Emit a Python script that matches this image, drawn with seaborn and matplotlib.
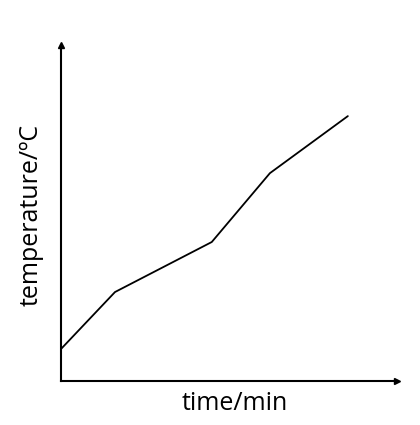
import matplotlib
matplotlib.use("Agg")
import matplotlib.pyplot as plt
import seaborn as sns
import pandas as pd

# readings
time_min = [0.0, 1.61, 4.49, 6.22, 8.54]
temperature = [0.95, 2.65, 4.14, 6.19, 7.89]

df = pd.DataFrame({"time": time_min, "temp": temperature})

sns.set_style("white")
plt.rcParams["font.family"] = ["Open Sans", "DejaVu Sans"]
plt.rcParams["text.color"] = "black"
plt.rcParams["axes.labelcolor"] = "black"

fig = plt.figure(figsize=(4.2, 4.25), dpi=100)
ax = fig.add_axes([0.145, 0.1035, 0.8, 0.79])

sns.lineplot(data=df, x="time", y="temp", color="black", linewidth=1.3, ax=ax)

ax.set_xlim(0, 10)
ax.set_ylim(0, 10)
ax.set_xticks([])
ax.set_yticks([])
sns.despine(ax=ax)
for side in ["left", "bottom"]:
    ax.spines[side].set_color("black")
    ax.spines[side].set_linewidth(1.5)

# arrow heads on the axes
ax.plot(1, 0, ">k", markersize=5, transform=ax.transAxes, clip_on=False)
ax.plot(0, 1, "^k", markersize=5, transform=ax.transAxes, clip_on=False)

ax.set_xlabel("time/min", fontsize=18)
ax.set_ylabel("temperature/ºC", fontsize=18)
ax.xaxis.set_label_coords(0.518, -0.03)
ax.yaxis.set_label_coords(-0.05, 0.494)

fig.savefig("out.png", dpi=100)
